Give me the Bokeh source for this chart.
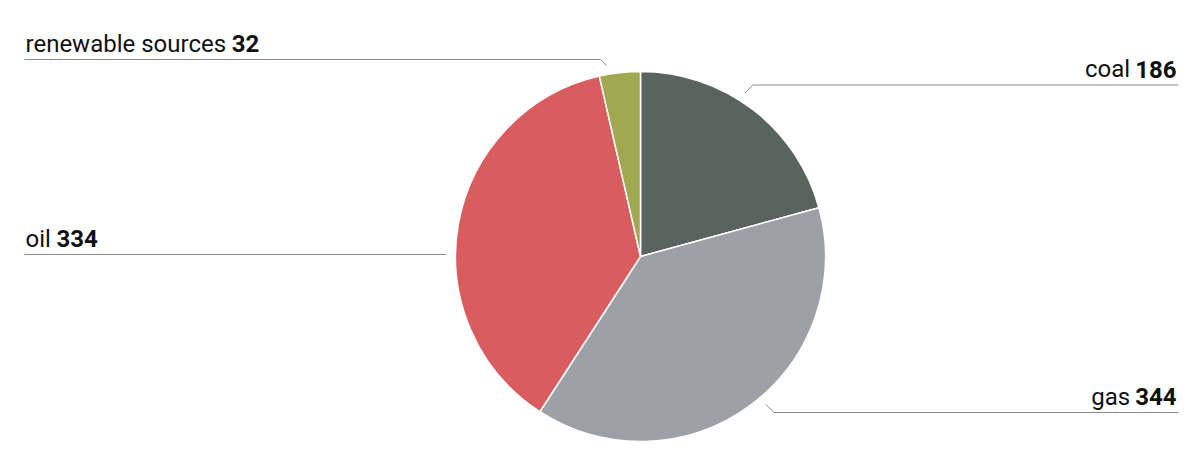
import math
from bokeh.plotting import figure
from bokeh.models import Range1d, ColumnDataSource
from bokeh.core.properties import value
from bokeh.embed import file_html
from bokeh.resources import INLINE

# ---- data ----
categories = ["coal", "gas", "oil", "renewable sources"]
values = [186, 344, 334, 32]
colors = ["#59645f", "#9da1a7", "#d95c5e", "#a2a84f"]

# ---- layout (pixels) ----
W, H = 1200, 459
CX, CY, R = 640, 203, 185
label_side = ["right", "right", "left", "left"]
label_line_y = [374.5, 47, 205, 400]     # y of the underline (data px, bottom-up)
elbow_dy = [8, 8, 0, 6]                  # vertical size of the leader's diagonal
LEFT_X, RIGHT_X = 24, 1178
FONT = "Roboto"
FS = 24  # px
TEXT_RAISE = 16

# approximate Roboto advance widths (units of 2048) for measuring the name part
ADV = {' ': 507, 'a': 1114, 'b': 1148, 'c': 1071, 'e': 1081, 'g': 1148, 'i': 496,
       'l': 497, 'n': 1130, 'o': 1142, 'r': 692, 's': 1055, 'u': 1128, 'w': 1531}


def text_width(s, size):
    return sum(ADV.get(ch, 1100) for ch in s) * size / 2048


def bold_num_width(s, size):
    return len(s) * 1150 * size / 2048


p = figure(width=W, height=H, output_backend="svg", toolbar_location=None,
           x_range=Range1d(0, W), y_range=Range1d(0, H), min_border=0)
p.axis.visible = False
p.grid.visible = False
p.outline_line_color = None
p.background_fill_color = "white"
p.border_fill_color = "white"

total = sum(values)
starts, ends = [], []
cum = 0
for v in values:
    a0 = math.pi / 2 - (cum + v) / total * 2 * math.pi
    a1 = math.pi / 2 - cum / total * 2 * math.pi
    starts.append(a0)
    ends.append(a1)
    cum += v

src = ColumnDataSource(dict(cat=categories, val=values, color=colors, start=starts, end=ends))
p.wedge(x=CX, y=CY, radius=R, start_angle="start", end_angle="end", fill_color="color",
        line_color="white", line_width=1.5, source=src)

# ---- labels and leaders ----
RL = 194
for cat, v, side, ly, edy in zip(categories, values, label_side, label_line_y, elbow_dy):
    above = ly > CY
    ay = ly - edy if above else ly + edy
    dx = math.sqrt(max(RL ** 2 - (ay - CY) ** 2, 0))
    sgn = 1 if side == "right" else -1
    ax = CX + sgn * dx
    ex = ax + sgn * edy
    end_x = RIGHT_X if side == "right" else LEFT_X
    p.line([ax, ex, end_x], [ay, ly, ly], line_color="#8a8a8a", line_width=1)

    num = str(v)
    ty = ly + TEXT_RAISE
    if side == "right":
        nx = RIGHT_X - 2
        p.text(x=[nx], y=[ty], text=[num], text_align="right", text_baseline="alphabetic",
               text_font=value(FONT), text_font_size=f"{FS}px", text_font_style="bold",
               text_color="#111111")
        p.text(x=[nx - bold_num_width(num, FS) - 6], y=[ty], text=[cat], text_align="right",
               text_baseline="alphabetic", text_font=value(FONT), text_font_size=f"{FS}px",
               text_color="#111111")
    else:
        nx = LEFT_X + 1
        p.text(x=[nx], y=[ty], text=[cat], text_align="left", text_baseline="alphabetic",
               text_font=value(FONT), text_font_size=f"{FS}px", text_color="#111111")
        p.text(x=[nx + text_width(cat + " ", FS)], y=[ty], text=[num], text_align="left",
               text_baseline="alphabetic", text_font=value(FONT), text_font_size=f"{FS}px",
               text_font_style="bold", text_color="#111111")

open("out.html", "w").write(file_html(p, INLINE))
